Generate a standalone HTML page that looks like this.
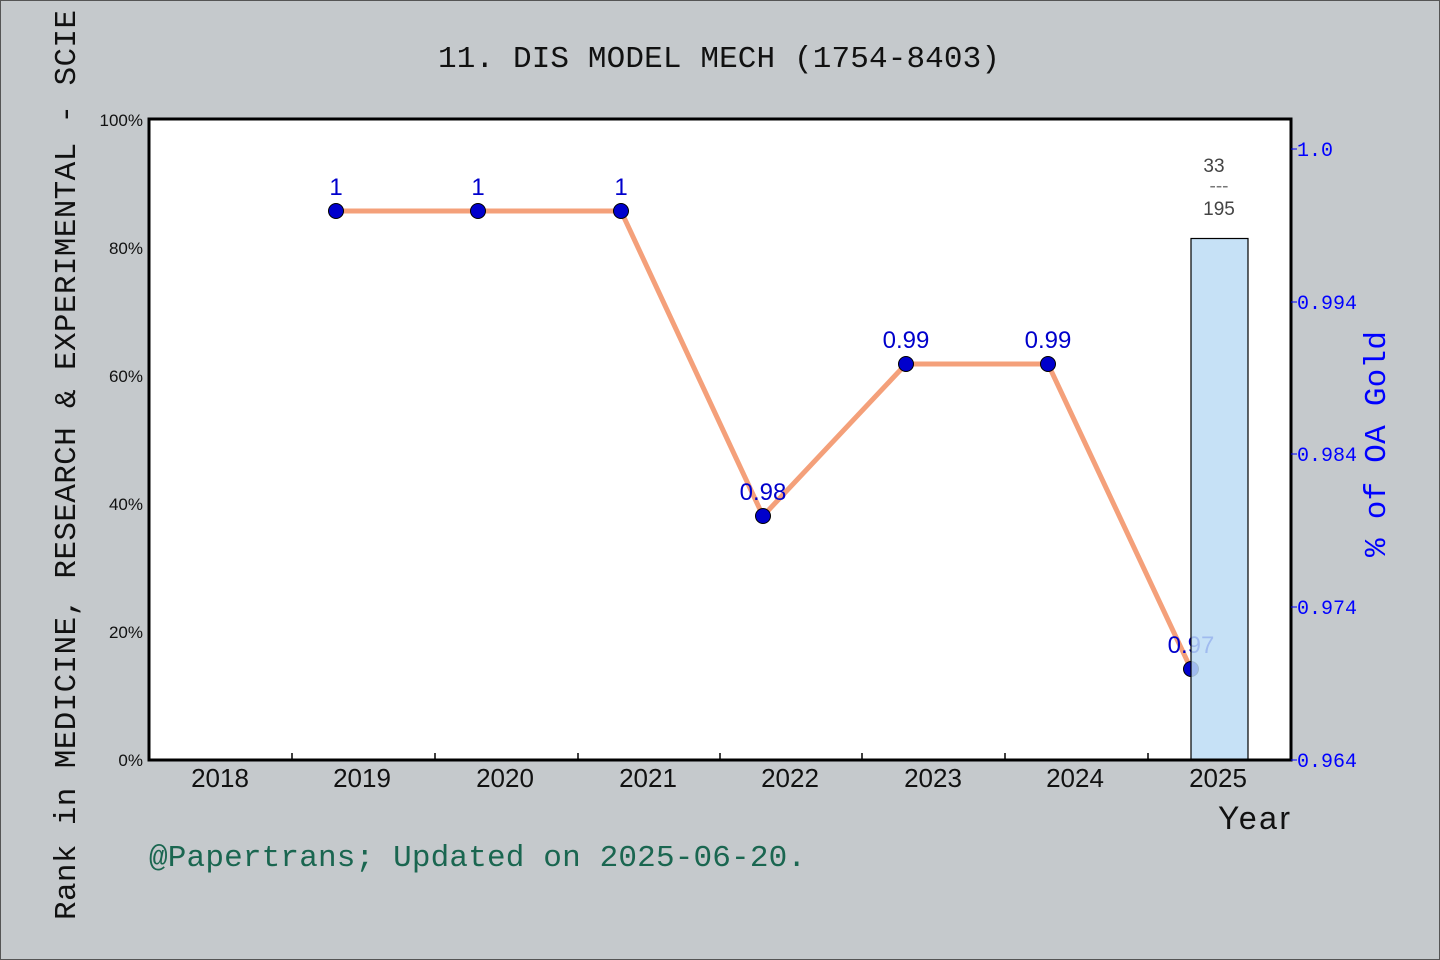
<!DOCTYPE html>
<html><head><meta charset="utf-8"><style>
html,body{margin:0;padding:0;background:#c5c9cc;}
svg{display:block;font-family:"Liberation Mono","DejaVu Sans Mono",monospace;}
.s{font-family:"Liberation Sans","DejaVu Sans",sans-serif;}
</style></head><body>
<svg width="1440" height="960" viewBox="0 0 1440 960">
<rect x="0" y="0" width="1440" height="960" fill="#c5c9cc"/>
<rect x="0.5" y="0.5" width="1439" height="959" fill="none" stroke="#555" stroke-width="1"/>
<text x="719" y="67" font-size="31" text-anchor="middle" fill="#111" textLength="562">11. DIS MODEL MECH (1754-8403)</text>
<rect x="149" y="119" width="1142" height="641" fill="#fff"/>
<polyline points="336,211 478,211 621,211 763,516 906,364 1048,364 1191,669" fill="none" stroke="#f4a07a" stroke-width="5" stroke-linejoin="round"/>
<g fill="#0000cc" stroke="#000" stroke-width="1">
<circle cx="336" cy="211" r="7.5"/><circle cx="478" cy="211" r="7.5"/><circle cx="621" cy="211" r="7.5"/>
<circle cx="763" cy="516" r="7.5"/><circle cx="906" cy="364" r="7.5"/><circle cx="1048" cy="364" r="7.5"/><circle cx="1191" cy="669" r="7.5"/>
</g>
<g class="s" fill="#0000cc" font-size="24" text-anchor="middle">
<text x="336" y="195">1</text><text x="478" y="195">1</text><text x="621" y="195">1</text>
<text x="763" y="500">0.98</text><text x="906" y="348">0.99</text><text x="1048" y="348">0.99</text><text x="1191" y="653">0.97</text>
</g>
<rect x="1191" y="238.5" width="57" height="521.5" fill="#bcdcf5" fill-opacity="0.85" stroke="#000" stroke-width="1.2"/>
<g class="s" fill="#444" font-size="19" text-anchor="middle">
<text x="1214" y="172">33</text><text x="1219" y="192" fill="#777">---</text><text x="1219" y="215">195</text>
</g>
<rect x="149" y="119" width="1142" height="641" fill="none" stroke="#000" stroke-width="3"/>
<g stroke="#000" stroke-width="1.5">
<line x1="292" y1="760" x2="292" y2="753"/><line x1="435" y1="760" x2="435" y2="753"/><line x1="578" y1="760" x2="578" y2="753"/>
<line x1="720" y1="760" x2="720" y2="753"/><line x1="862" y1="760" x2="862" y2="753"/><line x1="1005" y1="760" x2="1005" y2="753"/><line x1="1148" y1="760" x2="1148" y2="753"/>
</g>
<g class="s" font-size="17" fill="#111" text-anchor="end">
<text x="143" y="126">100%</text><text x="143" y="254">80%</text><text x="143" y="382">60%</text>
<text x="143" y="510">40%</text><text x="143" y="638">20%</text><text x="143" y="766">0%</text>
</g>
<g class="s" font-size="26" fill="#111" text-anchor="middle">
<text x="220" y="787">2018</text><text x="362" y="787">2019</text><text x="505" y="787">2020</text><text x="648" y="787">2021</text>
<text x="790" y="787">2022</text><text x="933" y="787">2023</text><text x="1075" y="787">2024</text><text x="1218" y="787">2025</text>
</g>
<text x="1218" y="829" font-size="32" fill="#111" class="s" textLength="72">Year</text>
<g fill="#0000ff" font-size="20">
<line x1="1291" y1="149" x2="1297" y2="149" stroke="#00f"/><text x="1297" y="156">1.0</text>
<line x1="1291" y1="302" x2="1297" y2="302" stroke="#00f"/><text x="1297" y="309">0.994</text>
<line x1="1291" y1="454" x2="1297" y2="454" stroke="#00f"/><text x="1297" y="461">0.984</text>
<line x1="1291" y1="607" x2="1297" y2="607" stroke="#00f"/><text x="1297" y="614">0.974</text>
<line x1="1291" y1="760" x2="1297" y2="760" stroke="#00f"/><text x="1297" y="767">0.964</text>
</g>
<text transform="translate(1385,444) rotate(-90)" font-size="31" fill="#0000ff" text-anchor="middle" textLength="226">% of OA Gold</text>
<text transform="translate(75,465) rotate(-90)" font-size="31" fill="#111" text-anchor="middle" textLength="910">Rank in MEDICINE, RESEARCH &amp; EXPERIMENTAL - SCIE</text>
<text x="149" y="866" font-size="31" fill="#1a6650" textLength="657">@Papertrans; Updated on 2025-06-20.</text>
</svg>
</body></html>
